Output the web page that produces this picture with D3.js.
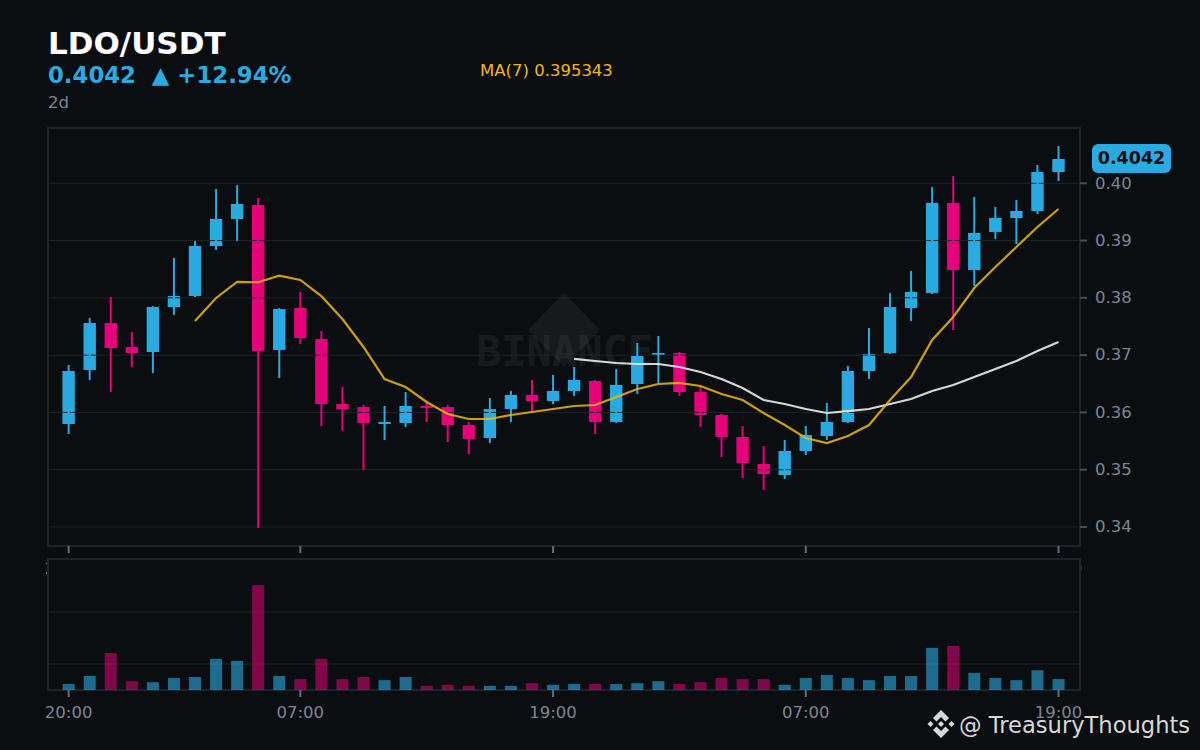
<!DOCTYPE html>
<html>
<head>
<meta charset="utf-8">
<script src="https://cdn.jsdelivr.net/npm/d3@7"></script>
<style>
html,body{margin:0;padding:0;background:#0b0e11;}
svg{display:block;}
text{font-family:"DejaVu Sans",sans-serif;white-space:pre;}
.axis path{display:none;}
.axis line{stroke:#474d57;stroke-width:2;}
.axis.time line{stroke:#666d79;}
.axis text{fill:#7d8591;font-size:16.5px;}
</style>
</head>
<body>
<svg id="canvas" width="1200" height="750"></svg>
<script>
// hourly candles
let opens=[.35798,.36741,.37561,.37142,.37055,.37840,.38032,.38905,.39377,.39621,.37090,.37823,.37281,.36147,.36094,.35798,.35815,.36112,.36094,.35780,.35553,.36059,.36304,.36199,.36374,.36548,.35833,.36496,.37002,.37037,.36356,.35955,.35571,.35100,.34907,.35327,.35588,.35833,.36723,.37037,.37823,.38085,.39656,.38486,.39150,.39394,.39516,.40197]
let closes=[.36723,.37561,.37124,.37037,.37840,.38032,.38905,.39377,.39639,.37072,.37805,.37299,.36147,.36059,.35815,.35833,.36112,.36094,.35780,.35536,.36059,.36304,.36199,.36374,.36566,.35833,.36479,.36985,.37037,.36356,.35955,.35571,.35117,.34925,.35327,.35606,.35833,.36723,.37020,.37840,.38102,.39656,.38486,.39132,.39394,.39516,.40197,.40424]
let highs=[.36828,.37648,.38015,.37404,.37858,.38696,.38993,.39901,.39970,.39743,.37823,.38102,.37421,.36444,.36129,.36112,.36356,.36182,.36129,.35833,.36251,.36374,.36566,.36653,.36793,.36566,.36758,.37212,.37334,.37055,.36444,.35972,.35763,.35414,.35518,.35763,.36164,.36810,.37474,.38085,.38469,.39935,.40127,.39761,.39586,.39708,.40320,.40651]
let lows=[.35623,.36566,.36356,.36793,.36688,.37701,.38015,.38836,.38993,.33983,.36601,.37194,.35763,.35675,.34995,.35518,.35745,.35833,.35484,.35274,.35466,.35833,.36007,.36147,.36286,.35623,.35815,.36321,.36514,.36286,.35745,.35222,.34855,.34646,.34838,.35257,.35518,.35815,.36583,.37020,.37596,.38067,.37439,.38207,.39028,.38940,.39464,.40040]
let volumes=[.115,.27,.71,.17,.15,.23,.25,.60,.56,2.02,.27,.21,.60,.21,.25,.19,.25,.08,.10,.08,.08,.08,.13,.10,.115,.115,.115,.13,.17,.115,.15,.23,.21,.21,.10,.23,.29,.23,.19,.27,.27,.81,.85,.33,.23,.19,.38,.21]
// moving averages start later than the candles
let ma7=[.37596,.37998,.38277,.38272,.38387,.38312,.38032,.37631,.37142,.36583,.36444,.36182,.35972,.35885,.35885,.35955,.36007,.36059,.36112,.36129,.36269,.36409,.36496,.36514,.36461,.36321,.36217,.35990,.35780,.35553,.35466,.35588,.35780,.36217,.36618,.37264,.37666,.38172,.38539,.38888,.39237,.39551]
let ma25=[.36933,.36898,.36863,.36845,.36845,.36793,.36706,.36583,.36426,.36217,.36147,.36059,.35990,.36024,.36059,.36147,.36234,.36374,.36479,.36618,.36758,.36898,.37072,.37229]
let ma7Start=6
let ma25Start=24

let priceTicks=[.34,.35,.36,.37,.38,.39,.40]
let volumeTicks=[.5,1.5]
let timeTicks=[0,11,23,35,47]
let timeLabels=['20:00','07:00','19:00','07:00','19:00']

let lastPrice='0.4042'
let changeText='0.4042  ▲ +12.94%'
let maText='MA(7) 0.395343'

let blue='#29abe2'
let pink='#e6007a'
let bg='#0b0e11'
let gridColor='#1e2329'

let svg=d3.select('#canvas')

let xScale=d3.scaleLinear().domain([-.98,48.02]).range([48,1080])
let yScale=d3.scaleLinear().domain([.33668,.40965]).range([546,128])
let volScale=d3.scaleLinear().domain([0,2.52]).range([690,559])

let isUp=(i)=>closes[i]>=opens[i]
let color=(i)=>isUp(i)?blue:pink

// header
svg.append('text').attr('x',48).attr('y',54).text('LDO/USDT')
    .attr('fill','#ffffff').attr('font-size',31).attr('font-weight','bold')
svg.append('text').attr('x',48).attr('y',83).text(changeText)
    .attr('fill',blue).attr('font-size',22.8).attr('font-weight','bold')
svg.append('text').attr('x',48).attr('y',108).text('2d')
    .attr('fill','#7d8591').attr('font-size',16.5)
svg.append('text').attr('x',480).attr('y',76).text(maText)
    .attr('fill','#f0b90b').attr('font-size',16.5)

// main panel watermark
svg.append('path').attr('d','M564,293L600,330L564,367L528,330Z').attr('fill','#ffffff').attr('opacity',.05)
svg.append('text').attr('x',564.5).attr('y',366).attr('text-anchor','middle').text('BINANCE')
    .attr('fill','#ffffff').attr('opacity',.05).attr('font-size',42).attr('font-weight','bold')
    .style('font-family','"DejaVu Sans Mono",monospace')

let indexes=d3.range(opens.length)

// bodies go under the grid, wicks over it
svg.selectAll('.body')
    .data(indexes)
    .enter()
    .append('rect')
    .attr('class','body')
    .attr('x',(i)=>xScale(i)-6.2)
    .attr('width',12.4)
    .attr('y',(i)=>yScale(Math.max(opens[i],closes[i])))
    .attr('height',(i)=>Math.max(2,Math.abs(yScale(opens[i])-yScale(closes[i]))))
    .attr('fill',color)

svg.selectAll('.grid')
    .data(priceTicks)
    .enter()
    .append('line')
    .attr('class','grid')
    .attr('x1',48).attr('x2',1080)
    .attr('y1',(d)=>yScale(d)).attr('y2',(d)=>yScale(d))
    .attr('stroke',gridColor).attr('stroke-width',1)

svg.selectAll('.wick')
    .data(indexes)
    .enter()
    .append('line')
    .attr('class','wick')
    .attr('x1',(i)=>xScale(i)).attr('x2',(i)=>xScale(i))
    .attr('y1',(i)=>yScale(highs[i])).attr('y2',(i)=>yScale(lows[i]))
    .attr('stroke',color).attr('stroke-width',2)

let maLine=(start)=>d3.line().x((d,i)=>xScale(i+start)).y((d)=>yScale(d))
svg.append('path').attr('d',maLine(ma25Start)(ma25))
    .attr('fill','none').attr('stroke','#eaecef').attr('stroke-width',2.2).attr('opacity',.9)
svg.append('path').attr('d',maLine(ma7Start)(ma7))
    .attr('fill','none').attr('stroke','#f0b90b').attr('stroke-width',2.2).attr('opacity',.85)

svg.append('rect').attr('x',48).attr('y',128).attr('width',1032).attr('height',418)
    .attr('fill','none').attr('stroke',gridColor).attr('stroke-width',2)

// price axis
svg.append('g').attr('class','axis').attr('transform','translate(1080,0)')
    .call(d3.axisRight(yScale).tickValues(priceTicks).tickSize(7).tickPadding(8).offset(0).tickFormat(d3.format('.2f')))

// main time axis, its labels end up mostly behind the volume panel
let timeAxis=()=>d3.axisBottom(xScale).tickValues(timeTicks).tickSize(7).tickPadding(9).offset(0).tickFormat((d,i)=>timeLabels[i])
svg.append('g').attr('class','axis time').attr('transform','translate(0,546)')
    .call(timeAxis())

// last price tag
svg.append('rect').attr('x',1092).attr('y',144).attr('width',79).attr('height',29).attr('rx',6)
    .attr('fill',blue)
svg.append('text').attr('x',1131.5).attr('y',164).attr('text-anchor','middle').text(lastPrice)
    .attr('fill','#0b0e11').attr('font-size',17.5).attr('font-weight','bold')

// volume panel
svg.append('rect').attr('x',48).attr('y',559).attr('width',1032).attr('height',131)
    .attr('fill',bg).attr('stroke',gridColor).attr('stroke-width',2)

svg.selectAll('.volgrid')
    .data(volumeTicks)
    .enter()
    .append('line')
    .attr('class','volgrid')
    .attr('x1',48).attr('x2',1080)
    .attr('y1',(d)=>volScale(d)).attr('y2',(d)=>volScale(d))
    .attr('stroke',gridColor).attr('stroke-width',1)

svg.selectAll('.vol')
    .data(indexes)
    .enter()
    .append('rect')
    .attr('class','vol')
    .attr('x',(i)=>xScale(i)-6)
    .attr('width',12)
    .attr('y',(i)=>volScale(volumes[i]))
    .attr('height',(i)=>volScale(0)-volScale(volumes[i]))
    .attr('fill',color)
    .attr('opacity',(i)=>isUp(i)?.6:.55)

svg.append('g').attr('class','axis time').attr('transform','translate(0,690)')
    .call(timeAxis())

// signature, small binance mark then the handle
let logo=svg.append('g').attr('transform','translate(941,724)').attr('fill','#d8d8d8')
logo.append('path').attr('d','M0,-14L8,-6L4.5,-2.5L0,-7L-4.5,-2.5L-8,-6Z')
logo.append('path').attr('d','M0,14L8,6L4.5,2.5L0,7L-4.5,2.5L-8,6Z')
logo.append('path').attr('d','M0,-3L3,0L0,3L-3,0Z')
logo.append('path').attr('d','M-10.5,-3L-7.5,0L-10.5,3L-13.5,0Z')
logo.append('path').attr('d','M10.5,-3L13.5,0L10.5,3L7.5,0Z')
svg.append('text').attr('x',959).attr('y',733).text('@ TreasuryThoughts')
    .attr('fill','#d8d8d8').attr('font-size',22.6)
</script>
</body>
</html>
